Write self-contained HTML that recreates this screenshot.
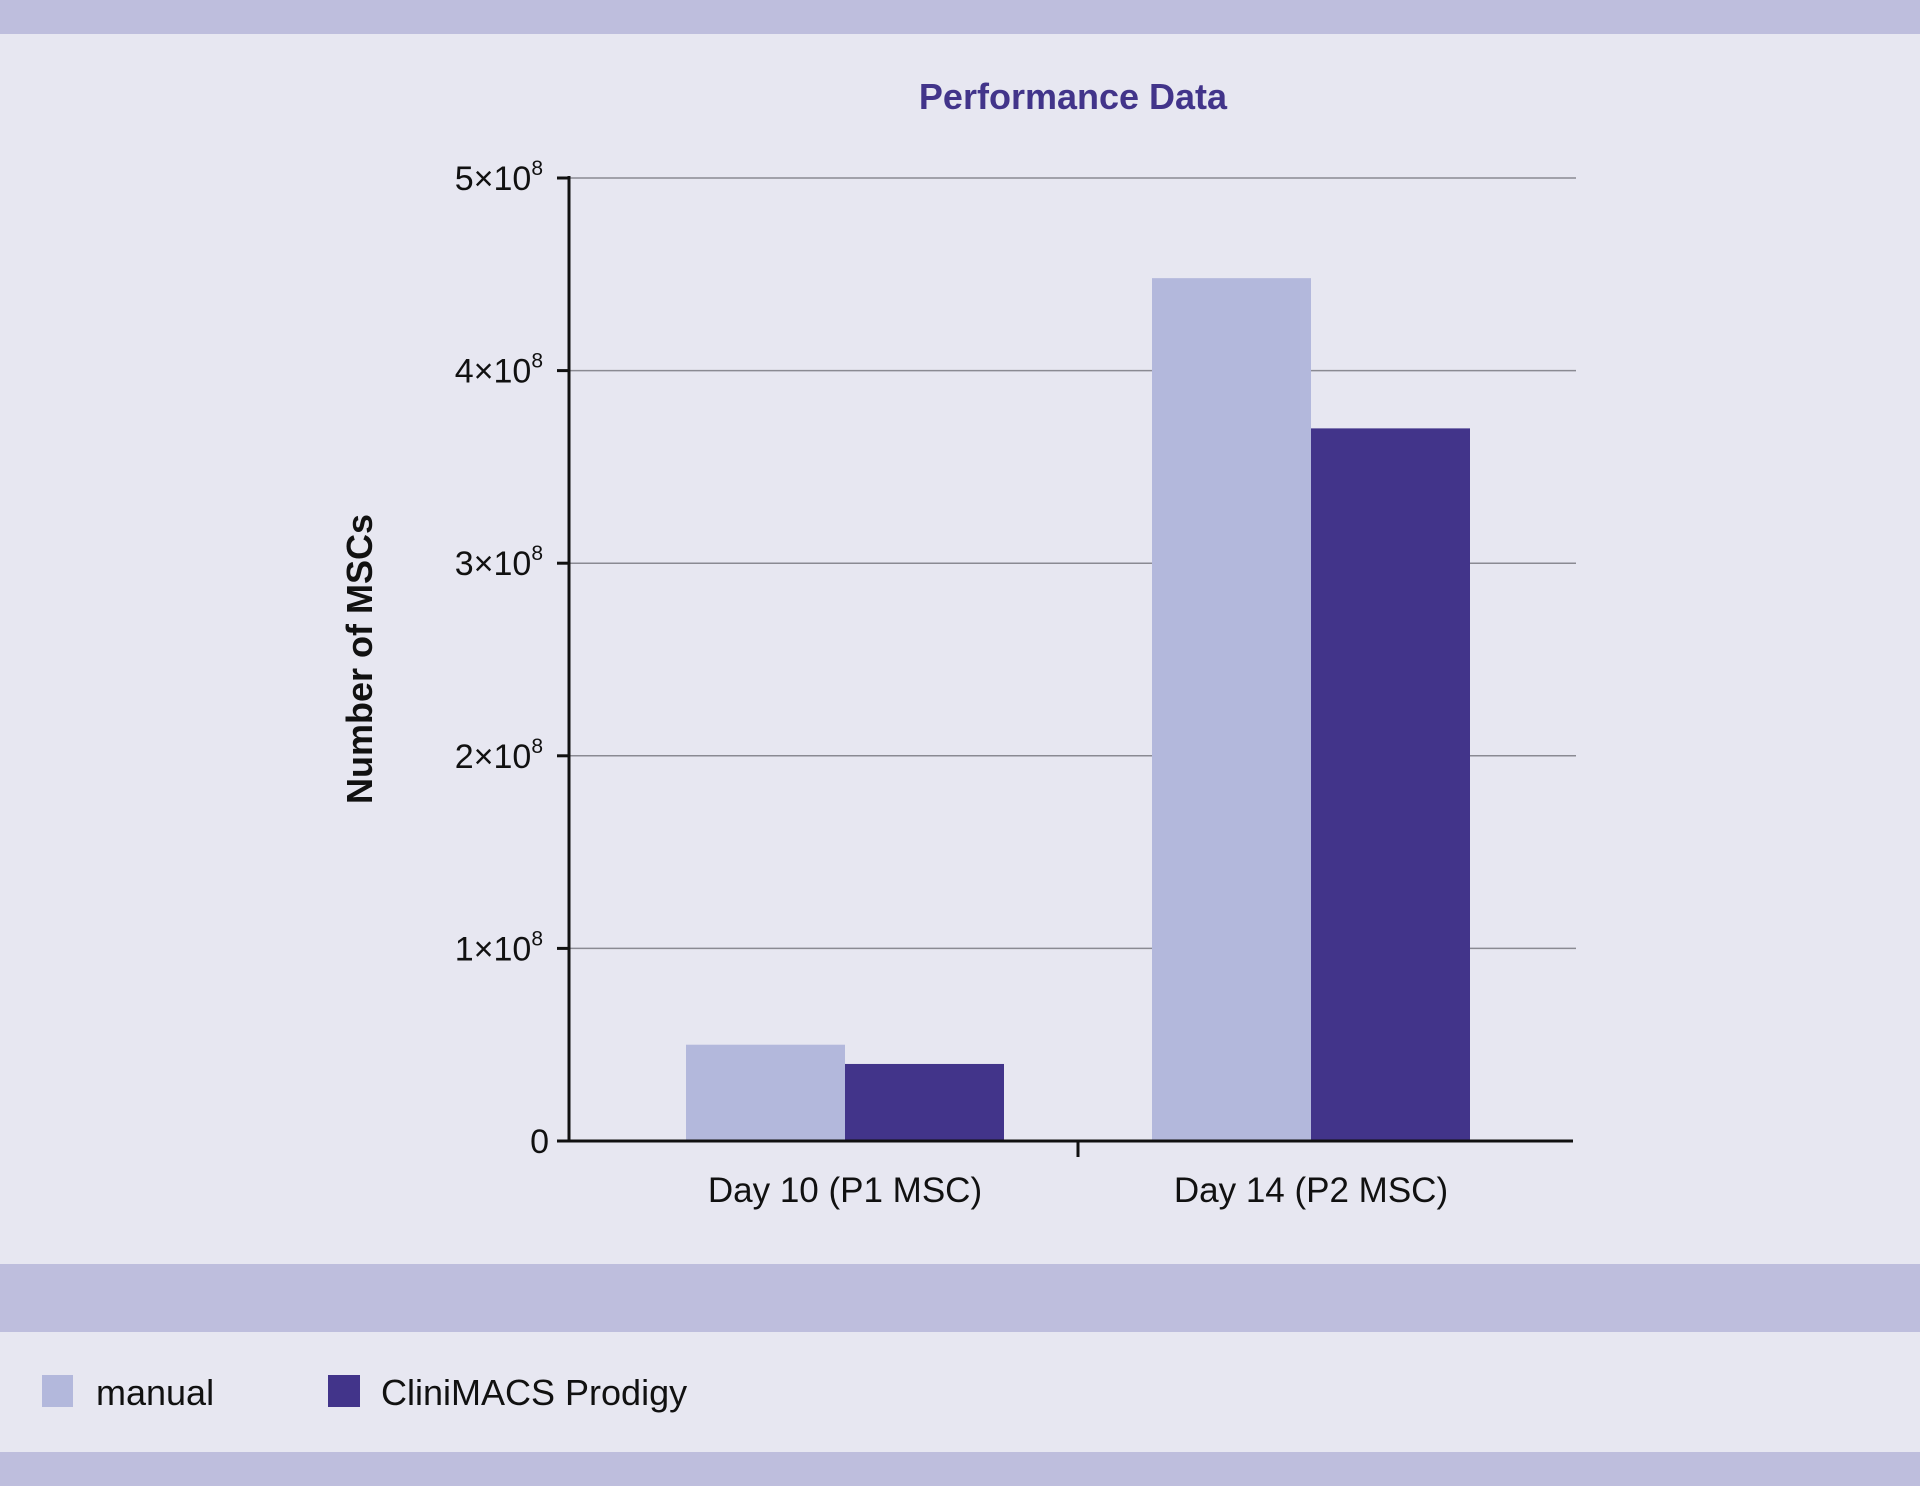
<!DOCTYPE html>
<html><head><meta charset="utf-8">
<style>
html,body{margin:0;padding:0;background:#e7e7f1;}
svg{display:block;font-family:"Liberation Sans",sans-serif;}
</style></head>
<body>
<svg id="chart" width="1920" height="1486" viewBox="0 0 1920 1486">
<rect x="0" y="0" width="1920" height="1486" fill="#e7e7f1"/>
<rect x="0" y="0" width="1920" height="34" fill="#bebedd"/>
<rect x="0" y="1264" width="1920" height="68" fill="#bebedd"/>
<rect x="0" y="1452" width="1920" height="34" fill="#bebedd"/>
<text x="1073" y="109" text-anchor="middle" font-size="36" font-weight="bold" fill="#42348a">Performance Data</text>
<text transform="translate(372,659) rotate(-90)" text-anchor="middle" font-size="36" font-weight="bold" fill="#111">Number of MSCs</text>
<g id="grid"></g><g id="bars"></g><g id="axes"></g>
<rect x="42" y="1375" width="31" height="32" fill="#b3b8dc"/>
<text x="96" y="1405" font-size="36" fill="#111">manual</text>
<rect x="328" y="1375" width="32" height="32" fill="#42348a"/>
<text x="381" y="1405" font-size="36" fill="#111">CliniMACS Prodigy</text>
</svg>
<script>
const categories = ["Day 10 (P1 MSC)", "Day 14 (P2 MSC)"];
const manualValues = [0.5e8, 4.48e8];
const prodigyValues = [0.4e8, 3.70e8];
const tickValues = [0, 1e8, 2e8, 3e8, 4e8, 5e8];
const tickLabels = ["0", "1", "2", "3", "4", "5"];

const NS = "http://www.w3.org/2000/svg";
const x0 = 569, x1 = 1574, yZero = 1141, yTop = 178, yMax = 5e8;
const y = v => yZero - (v / yMax) * (yZero - yTop);
const groupCenters = [845, 1311];
const barW = 159;
function mk(tag, attrs, parent) {
  const e = document.createElementNS(NS, tag);
  for (const k in attrs) e.setAttribute(k, attrs[k]);
  parent.appendChild(e);
  return e;
}
const grid = document.getElementById('grid');
const bars = document.getElementById('bars');
const axes = document.getElementById('axes');
tickValues.forEach((v, i) => {
  if (v > 0) {
    const g = mk('line', {x1: x0, x2: 1576, y1: y(v), y2: y(v), stroke: '#8a8a92', 'stroke-width': 1.5}, grid);
    
    
  }
  const t = mk('line', {x1: x0 - 12, x2: x0, y1: y(v), y2: y(v), stroke: '#111', 'stroke-width': 3}, axes);
  
  
  const lab = mk('text', {x: v === 0 ? x0 - 20 : x0 - 26, y: y(v) + 12, 'text-anchor': 'end', 'font-size': 34, fill: '#111'}, axes);
  
  
  if (v === 0) { lab.textContent = "0"; }
  else {
    lab.textContent = tickLabels[i] + "\u00d710";
    const sup = mk('tspan', {'font-size': 21, dy: -15}, lab);
    sup.textContent = "8";
  }
});
categories.forEach((c, i) => {
  const gc = groupCenters[i];
  const m = mk('rect', {x: gc - barW, y: y(manualValues[i]), width: barW, height: yZero - y(manualValues[i]), fill: '#b3b8dc'}, bars);
  
  
  const p = mk('rect', {x: gc, y: y(prodigyValues[i]), width: barW, height: yZero - y(prodigyValues[i]), fill: '#42348a'}, bars);
  
  
  const lab = mk('text', {x: gc, y: 1202, 'text-anchor': 'middle', 'font-size': 35, fill: '#111'}, axes);
  
  
  lab.textContent = c;
});
const ya = mk('line', {x1: x0, x2: x0, y1: yTop - 2, y2: yZero + 1.5, stroke: '#111', 'stroke-width': 3}, axes);


const xa = mk('line', {x1: x0, x2: 1573, y1: yZero, y2: yZero, stroke: '#111', 'stroke-width': 3}, axes);


const mt = mk('line', {x1: 1078, x2: 1078, y1: yZero, y2: 1157, stroke: '#111', 'stroke-width': 3}, axes);


</script>
</body></html>
